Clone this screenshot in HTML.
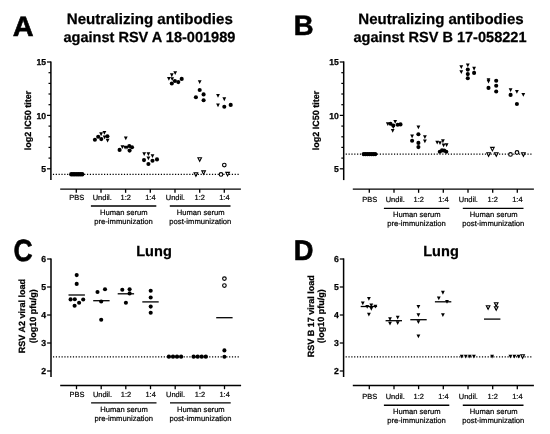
<!DOCTYPE html>
<html><head><meta charset="utf-8"><title>Figure</title>
<style>
html,body{margin:0;padding:0;background:#fff;}
svg{display:block;}
svg text{text-rendering:geometricPrecision;font-family:"Liberation Sans",sans-serif;fill:#000;}
</style></head>
<body>
<svg width="550" height="434" viewBox="0 0 550 434">
<rect width="550" height="434" fill="#fff"/>
<text x="149.80" y="24.10" font-size="15.1" font-weight="bold" stroke="#000" stroke-width="0.25" text-anchor="middle" >Neutralizing antibodies</text>
<text x="149.40" y="41.90" font-size="14.55" font-weight="bold" stroke="#000" stroke-width="0.25" text-anchor="middle" >against RSV A 18-001989</text>
<line x1="50.9" y1="61.4" x2="50.9" y2="180.1" stroke="#000" stroke-width="1.5" />
<line x1="47.0" y1="62.0" x2="51.0" y2="62.0" stroke="#000" stroke-width="1.25" />
<line x1="48.5" y1="72.7" x2="51.0" y2="72.7" stroke="#000" stroke-width="1.2" />
<line x1="48.5" y1="83.4" x2="51.0" y2="83.4" stroke="#000" stroke-width="1.2" />
<line x1="48.5" y1="94.0" x2="51.0" y2="94.0" stroke="#000" stroke-width="1.2" />
<line x1="48.5" y1="104.7" x2="51.0" y2="104.7" stroke="#000" stroke-width="1.2" />
<line x1="47.0" y1="115.4" x2="51.0" y2="115.4" stroke="#000" stroke-width="1.25" />
<line x1="48.5" y1="126.1" x2="51.0" y2="126.1" stroke="#000" stroke-width="1.2" />
<line x1="48.5" y1="136.8" x2="51.0" y2="136.8" stroke="#000" stroke-width="1.2" />
<line x1="48.5" y1="147.4" x2="51.0" y2="147.4" stroke="#000" stroke-width="1.2" />
<line x1="48.5" y1="158.1" x2="51.0" y2="158.1" stroke="#000" stroke-width="1.2" />
<line x1="47.0" y1="168.8" x2="51.0" y2="168.8" stroke="#000" stroke-width="1.25" />
<text x="46.00" y="65.40" font-size="8.65" font-weight="bold" stroke="#000" stroke-width="0.25" text-anchor="end" >15</text>
<text x="46.00" y="118.80" font-size="8.65" font-weight="bold" stroke="#000" stroke-width="0.25" text-anchor="end" >10</text>
<text x="46.00" y="172.20" font-size="8.65" font-weight="bold" stroke="#000" stroke-width="0.25" text-anchor="end" >5</text>
<text transform="translate(30.6 120.6) rotate(-90)" font-size="9" font-weight="bold" stroke="#000" stroke-width="0.25" text-anchor="middle">log2 IC50 titer</text>
<line x1="60.2" y1="189.1" x2="240.9" y2="189.1" stroke="#000" stroke-width="1.4" />
<line x1="76.3" y1="189.0" x2="76.3" y2="192.8" stroke="#000" stroke-width="1.3" />
<line x1="101.0" y1="189.0" x2="101.0" y2="192.8" stroke="#000" stroke-width="1.3" />
<line x1="125.6" y1="189.0" x2="125.6" y2="192.8" stroke="#000" stroke-width="1.3" />
<line x1="150.3" y1="189.0" x2="150.3" y2="192.8" stroke="#000" stroke-width="1.3" />
<line x1="175.0" y1="189.0" x2="175.0" y2="192.8" stroke="#000" stroke-width="1.3" />
<line x1="199.7" y1="189.0" x2="199.7" y2="192.8" stroke="#000" stroke-width="1.3" />
<line x1="224.3" y1="189.0" x2="224.3" y2="192.8" stroke="#000" stroke-width="1.3" />
<text x="76.80" y="199.80" font-size="7.45" stroke="#000" stroke-width="0.2" text-anchor="middle" >PBS</text>
<text x="102.27" y="199.80" font-size="7.45" stroke="#000" stroke-width="0.2" text-anchor="middle" >Undil.</text>
<text x="125.74" y="199.80" font-size="7.45" stroke="#000" stroke-width="0.2" text-anchor="middle" >1:2</text>
<text x="150.41" y="199.80" font-size="7.45" stroke="#000" stroke-width="0.2" text-anchor="middle" >1:4</text>
<text x="175.38" y="199.80" font-size="7.45" stroke="#000" stroke-width="0.2" text-anchor="middle" >Undil.</text>
<text x="199.75" y="199.80" font-size="7.45" stroke="#000" stroke-width="0.2" text-anchor="middle" >1:2</text>
<text x="224.42" y="199.80" font-size="7.45" stroke="#000" stroke-width="0.2" text-anchor="middle" >1:4</text>
<line x1="90.9" y1="206.0" x2="156.3" y2="206.0" stroke="#000" stroke-width="1.4" />
<line x1="169.8" y1="206.0" x2="230.5" y2="206.0" stroke="#000" stroke-width="1.4" />
<text x="123.84" y="215.00" font-size="7.6" stroke="#000" stroke-width="0.2" text-anchor="middle" >Human serum</text>
<text x="123.54" y="224.00" font-size="7.65" stroke="#000" stroke-width="0.2" text-anchor="middle" >pre-immunization</text>
<text x="200.65" y="215.00" font-size="7.6" stroke="#000" stroke-width="0.2" text-anchor="middle" >Human serum</text>
<text x="200.35" y="224.00" font-size="7.65" stroke="#000" stroke-width="0.2" text-anchor="middle" >post-immunization</text>
<line x1="52.9" y1="174.3" x2="240.1" y2="174.3" stroke="#000" stroke-width="1.2" stroke-dasharray="1.2 1.64"/>
<circle cx="71.3" cy="174.3" r="2.2"/>
<circle cx="73.1" cy="174.3" r="2.2"/>
<circle cx="74.9" cy="174.3" r="2.2"/>
<circle cx="76.8" cy="174.3" r="2.2"/>
<circle cx="78.6" cy="174.3" r="2.2"/>
<circle cx="80.4" cy="174.3" r="2.2"/>
<circle cx="82.2" cy="174.3" r="2.2"/>
<circle cx="94.9" cy="139.8" r="2.05"/>
<circle cx="98.2" cy="136.7" r="2.05"/>
<circle cx="101.3" cy="139.1" r="2.05"/>
<circle cx="107.4" cy="136.3" r="2.05"/>
<path d="M99.20 132.35h3.8l-1.9 3.8z"/>
<path d="M102.50 130.95h3.8l-1.9 3.8z"/>
<path d="M102.70 135.55h3.8l-1.9 3.8z"/>
<path d="M105.70 138.75h3.8l-1.9 3.8z"/>
<circle cx="119.6" cy="149.9" r="2.05"/>
<circle cx="129.6" cy="150.6" r="2.05"/>
<circle cx="132.0" cy="147.3" r="2.05"/>
<circle cx="129.3" cy="146.0" r="2.05"/>
<path d="M123.90 136.45h3.8l-1.9 3.8z"/>
<path d="M120.50 145.25h3.8l-1.9 3.8z"/>
<path d="M123.20 145.65h3.8l-1.9 3.8z"/>
<path d="M125.10 145.95h3.8l-1.9 3.8z"/>
<circle cx="144.0" cy="160.1" r="2.05"/>
<circle cx="148.4" cy="164.0" r="2.05"/>
<circle cx="152.5" cy="160.8" r="2.05"/>
<circle cx="157.0" cy="159.4" r="2.05"/>
<path d="M142.30 152.25h3.8l-1.9 3.8z"/>
<path d="M146.50 152.25h3.8l-1.9 3.8z"/>
<path d="M150.60 154.25h3.8l-1.9 3.8z"/>
<path d="M146.50 156.55h3.8l-1.9 3.8z"/>
<circle cx="171.8" cy="83.5" r="2.05"/>
<circle cx="174.9" cy="81.0" r="2.05"/>
<circle cx="178.3" cy="82.1" r="2.05"/>
<circle cx="181.7" cy="78.9" r="2.05"/>
<path d="M173.30 71.25h3.8l-1.9 3.8z"/>
<path d="M169.90 73.35h3.8l-1.9 3.8z"/>
<path d="M167.00 77.05h3.8l-1.9 3.8z"/>
<path d="M170.30 77.15h3.8l-1.9 3.8z"/>
<circle cx="199.7" cy="90.0" r="2.05"/>
<circle cx="203.6" cy="94.4" r="2.05"/>
<circle cx="195.9" cy="97.2" r="2.05"/>
<circle cx="203.6" cy="100.3" r="2.05"/>
<path d="M197.80 80.15h3.8l-1.9 3.8z"/>
<circle cx="224.3" cy="106.8" r="2.05"/>
<circle cx="230.7" cy="104.9" r="2.05"/>
<path d="M216.10 94.05h3.8l-1.9 3.8z"/>
<path d="M222.40 97.35h3.8l-1.9 3.8z"/>
<path d="M216.10 103.45h3.8l-1.9 3.8z"/>
<path d="M197.9 157.7h3.6l-1.8 3.5z" fill="#fff" stroke="#000" stroke-width="1.1"/>
<path d="M194.1 172.7h3.6l-1.8 3.5z" fill="#fff" stroke="#000" stroke-width="1.1"/>
<path d="M201.8 170.9h3.6l-1.8 3.5z" fill="#fff" stroke="#000" stroke-width="1.1"/>
<circle cx="224.3" cy="165.0" r="1.8" fill="#fff" stroke="#000" stroke-width="1.15"/>
<circle cx="221.0" cy="174.4" r="1.8" fill="#fff" stroke="#000" stroke-width="1.15"/>
<path d="M225.8 172.4h3.6l-1.8 3.5z" fill="#fff" stroke="#000" stroke-width="1.1"/>
<text x="441.00" y="23.70" font-size="15.04" font-weight="bold" stroke="#000" stroke-width="0.25" text-anchor="middle" >Neutralizing antibodies</text>
<text x="440.00" y="41.90" font-size="14.55" font-weight="bold" stroke="#000" stroke-width="0.25" text-anchor="middle" >against RSV B 17-058221</text>
<line x1="343.7" y1="61.4" x2="343.7" y2="180.1" stroke="#000" stroke-width="1.5" />
<line x1="339.8" y1="62.0" x2="343.8" y2="62.0" stroke="#000" stroke-width="1.25" />
<line x1="341.3" y1="72.7" x2="343.8" y2="72.7" stroke="#000" stroke-width="1.2" />
<line x1="341.3" y1="83.4" x2="343.8" y2="83.4" stroke="#000" stroke-width="1.2" />
<line x1="341.3" y1="94.0" x2="343.8" y2="94.0" stroke="#000" stroke-width="1.2" />
<line x1="341.3" y1="104.7" x2="343.8" y2="104.7" stroke="#000" stroke-width="1.2" />
<line x1="339.8" y1="115.4" x2="343.8" y2="115.4" stroke="#000" stroke-width="1.25" />
<line x1="341.3" y1="126.1" x2="343.8" y2="126.1" stroke="#000" stroke-width="1.2" />
<line x1="341.3" y1="136.8" x2="343.8" y2="136.8" stroke="#000" stroke-width="1.2" />
<line x1="341.3" y1="147.4" x2="343.8" y2="147.4" stroke="#000" stroke-width="1.2" />
<line x1="341.3" y1="158.1" x2="343.8" y2="158.1" stroke="#000" stroke-width="1.2" />
<line x1="339.8" y1="168.8" x2="343.8" y2="168.8" stroke="#000" stroke-width="1.25" />
<text x="338.80" y="65.40" font-size="8.65" font-weight="bold" stroke="#000" stroke-width="0.25" text-anchor="end" >15</text>
<text x="338.80" y="118.80" font-size="8.65" font-weight="bold" stroke="#000" stroke-width="0.25" text-anchor="end" >10</text>
<text x="338.80" y="172.20" font-size="8.65" font-weight="bold" stroke="#000" stroke-width="0.25" text-anchor="end" >5</text>
<text transform="translate(318.7 120.6) rotate(-90)" font-size="9" font-weight="bold" stroke="#000" stroke-width="0.25" text-anchor="middle">log2 IC50 titer</text>
<line x1="352.8" y1="189.1" x2="533.9" y2="189.1" stroke="#000" stroke-width="1.4" />
<line x1="369.3" y1="189.0" x2="369.3" y2="192.8" stroke="#000" stroke-width="1.3" />
<line x1="394.0" y1="189.0" x2="394.0" y2="192.8" stroke="#000" stroke-width="1.3" />
<line x1="418.6" y1="189.0" x2="418.6" y2="192.8" stroke="#000" stroke-width="1.3" />
<line x1="443.3" y1="189.0" x2="443.3" y2="192.8" stroke="#000" stroke-width="1.3" />
<line x1="468.0" y1="189.0" x2="468.0" y2="192.8" stroke="#000" stroke-width="1.3" />
<line x1="492.7" y1="189.0" x2="492.7" y2="192.8" stroke="#000" stroke-width="1.3" />
<line x1="517.3" y1="189.0" x2="517.3" y2="192.8" stroke="#000" stroke-width="1.3" />
<text x="369.80" y="202.20" font-size="7.45" stroke="#000" stroke-width="0.2" text-anchor="middle" >PBS</text>
<text x="395.27" y="202.20" font-size="7.45" stroke="#000" stroke-width="0.2" text-anchor="middle" >Undil.</text>
<text x="418.74" y="202.20" font-size="7.45" stroke="#000" stroke-width="0.2" text-anchor="middle" >1:2</text>
<text x="443.41" y="202.20" font-size="7.45" stroke="#000" stroke-width="0.2" text-anchor="middle" >1:4</text>
<text x="468.38" y="202.20" font-size="7.45" stroke="#000" stroke-width="0.2" text-anchor="middle" >Undil.</text>
<text x="492.75" y="202.20" font-size="7.45" stroke="#000" stroke-width="0.2" text-anchor="middle" >1:2</text>
<text x="517.42" y="202.20" font-size="7.45" stroke="#000" stroke-width="0.2" text-anchor="middle" >1:4</text>
<line x1="383.9" y1="208.4" x2="449.3" y2="208.4" stroke="#000" stroke-width="1.4" />
<line x1="462.8" y1="208.4" x2="523.5" y2="208.4" stroke="#000" stroke-width="1.4" />
<text x="416.84" y="217.40" font-size="7.6" stroke="#000" stroke-width="0.2" text-anchor="middle" >Human serum</text>
<text x="416.54" y="226.40" font-size="7.65" stroke="#000" stroke-width="0.2" text-anchor="middle" >pre-immunization</text>
<text x="493.65" y="217.40" font-size="7.6" stroke="#000" stroke-width="0.2" text-anchor="middle" >Human serum</text>
<text x="493.35" y="226.40" font-size="7.65" stroke="#000" stroke-width="0.2" text-anchor="middle" >post-immunization</text>
<line x1="345.7" y1="154.1" x2="533.1" y2="154.1" stroke="#000" stroke-width="1.2" stroke-dasharray="1.2 1.64"/>
<circle cx="363.8" cy="154.1" r="2.2"/>
<circle cx="365.7" cy="154.1" r="2.2"/>
<circle cx="367.6" cy="154.1" r="2.2"/>
<circle cx="369.5" cy="154.1" r="2.2"/>
<circle cx="371.4" cy="154.1" r="2.2"/>
<circle cx="373.3" cy="154.1" r="2.2"/>
<circle cx="375.2" cy="154.1" r="2.2"/>
<circle cx="390.5" cy="123.8" r="2.05"/>
<circle cx="393.3" cy="125.5" r="2.05"/>
<circle cx="397.7" cy="124.7" r="2.05"/>
<circle cx="400.5" cy="124.4" r="2.05"/>
<path d="M393.30 119.95h3.8l-1.9 3.8z"/>
<path d="M385.90 122.15h3.8l-1.9 3.8z"/>
<path d="M390.80 129.05h3.8l-1.9 3.8z"/>
<path d="M391.40 125.15h3.8l-1.9 3.8z"/>
<circle cx="418.4" cy="134.3" r="2.05"/>
<circle cx="412.1" cy="140.7" r="2.05"/>
<circle cx="418.4" cy="142.9" r="2.05"/>
<circle cx="418.4" cy="147.1" r="2.05"/>
<path d="M416.50 125.45h3.8l-1.9 3.8z"/>
<path d="M410.20 134.55h3.8l-1.9 3.8z"/>
<path d="M423.00 135.15h3.8l-1.9 3.8z"/>
<path d="M423.00 139.55h3.8l-1.9 3.8z"/>
<circle cx="439.8" cy="151.7" r="2.05"/>
<circle cx="442.0" cy="150.4" r="2.05"/>
<circle cx="444.2" cy="150.6" r="2.05"/>
<circle cx="446.3" cy="151.7" r="2.05"/>
<path d="M435.30 140.65h3.8l-1.9 3.8z"/>
<path d="M438.10 141.25h3.8l-1.9 3.8z"/>
<path d="M441.00 139.35h3.8l-1.9 3.8z"/>
<path d="M441.70 143.45h3.8l-1.9 3.8z"/>
<path d="M444.70 143.15h3.8l-1.9 3.8z"/>
<circle cx="467.8" cy="69.6" r="2.05"/>
<circle cx="467.8" cy="74.1" r="2.05"/>
<circle cx="467.8" cy="78.3" r="2.05"/>
<circle cx="474.1" cy="72.9" r="2.05"/>
<path d="M459.40 65.15h3.8l-1.9 3.8z"/>
<path d="M459.40 70.15h3.8l-1.9 3.8z"/>
<path d="M465.90 63.55h3.8l-1.9 3.8z"/>
<path d="M472.20 66.85h3.8l-1.9 3.8z"/>
<circle cx="496.2" cy="80.7" r="2.05"/>
<circle cx="496.2" cy="85.7" r="2.05"/>
<circle cx="488.5" cy="87.9" r="2.05"/>
<circle cx="496.2" cy="91.5" r="2.05"/>
<path d="M486.60 78.15h3.8l-1.9 3.8z"/>
<path d="M486.60 79.75h3.8l-1.9 3.8z"/>
<circle cx="510.6" cy="94.9" r="2.05"/>
<circle cx="516.9" cy="104.0" r="2.05"/>
<path d="M508.70 88.15h3.8l-1.9 3.8z"/>
<path d="M515.00 90.05h3.8l-1.9 3.8z"/>
<path d="M521.40 93.05h3.8l-1.9 3.8z"/>
<path d="M486.8 152.7h3.6l-1.8 3.5z" fill="#fff" stroke="#000" stroke-width="1.1"/>
<path d="M490.6 147.4h3.6l-1.8 3.5z" fill="#fff" stroke="#000" stroke-width="1.1"/>
<path d="M494.5 152.7h3.6l-1.8 3.5z" fill="#fff" stroke="#000" stroke-width="1.1"/>
<circle cx="510.5" cy="154.4" r="1.8" fill="#fff" stroke="#000" stroke-width="1.15"/>
<circle cx="517.0" cy="152.4" r="1.8" fill="#fff" stroke="#000" stroke-width="1.15"/>
<path d="M521.6 152.7h3.6l-1.8 3.5z" fill="#fff" stroke="#000" stroke-width="1.1"/>
<text x="154.00" y="255.50" font-size="14.55" font-weight="bold" stroke="#000" stroke-width="0.25" text-anchor="middle" >Lung</text>
<line x1="51.0" y1="258.4" x2="51.0" y2="377.0" stroke="#000" stroke-width="1.5" />
<line x1="47.1" y1="259.0" x2="51.1" y2="259.0" stroke="#000" stroke-width="1.25" />
<text x="46.10" y="262.35" font-size="8.7" font-weight="bold" stroke="#000" stroke-width="0.25" text-anchor="end" >6</text>
<line x1="47.1" y1="287.0" x2="51.1" y2="287.0" stroke="#000" stroke-width="1.25" />
<text x="46.10" y="290.35" font-size="8.7" font-weight="bold" stroke="#000" stroke-width="0.25" text-anchor="end" >5</text>
<line x1="47.1" y1="315.0" x2="51.1" y2="315.0" stroke="#000" stroke-width="1.25" />
<text x="46.10" y="318.35" font-size="8.7" font-weight="bold" stroke="#000" stroke-width="0.25" text-anchor="end" >4</text>
<line x1="47.1" y1="343.0" x2="51.1" y2="343.0" stroke="#000" stroke-width="1.25" />
<text x="46.10" y="346.35" font-size="8.7" font-weight="bold" stroke="#000" stroke-width="0.25" text-anchor="end" >3</text>
<line x1="47.1" y1="371.0" x2="51.1" y2="371.0" stroke="#000" stroke-width="1.25" />
<text x="46.10" y="374.35" font-size="8.7" font-weight="bold" stroke="#000" stroke-width="0.25" text-anchor="end" >2</text>
<text transform="translate(25.2 316.2) rotate(-90)" font-size="9" font-weight="bold" stroke="#000" stroke-width="0.25" text-anchor="middle">RSV A2 viral load</text>
<text transform="translate(35.5 316.2) rotate(-90)" font-size="9" font-weight="bold" stroke="#000" stroke-width="0.25" text-anchor="middle">(log10 pfu/g)</text>
<line x1="60.2" y1="385.5" x2="241.1" y2="385.5" stroke="#000" stroke-width="1.4" />
<line x1="76.5" y1="385.4" x2="76.5" y2="389.2" stroke="#000" stroke-width="1.3" />
<line x1="101.2" y1="385.4" x2="101.2" y2="389.2" stroke="#000" stroke-width="1.3" />
<line x1="125.8" y1="385.4" x2="125.8" y2="389.2" stroke="#000" stroke-width="1.3" />
<line x1="150.5" y1="385.4" x2="150.5" y2="389.2" stroke="#000" stroke-width="1.3" />
<line x1="175.2" y1="385.4" x2="175.2" y2="389.2" stroke="#000" stroke-width="1.3" />
<line x1="199.9" y1="385.4" x2="199.9" y2="389.2" stroke="#000" stroke-width="1.3" />
<line x1="224.5" y1="385.4" x2="224.5" y2="389.2" stroke="#000" stroke-width="1.3" />
<text x="77.00" y="396.70" font-size="7.45" stroke="#000" stroke-width="0.2" text-anchor="middle" >PBS</text>
<text x="102.47" y="396.70" font-size="7.45" stroke="#000" stroke-width="0.2" text-anchor="middle" >Undil.</text>
<text x="125.94" y="396.70" font-size="7.45" stroke="#000" stroke-width="0.2" text-anchor="middle" >1:2</text>
<text x="150.61" y="396.70" font-size="7.45" stroke="#000" stroke-width="0.2" text-anchor="middle" >1:4</text>
<text x="175.58" y="396.70" font-size="7.45" stroke="#000" stroke-width="0.2" text-anchor="middle" >Undil.</text>
<text x="199.95" y="396.70" font-size="7.45" stroke="#000" stroke-width="0.2" text-anchor="middle" >1:2</text>
<text x="224.62" y="396.70" font-size="7.45" stroke="#000" stroke-width="0.2" text-anchor="middle" >1:4</text>
<line x1="91.1" y1="402.9" x2="156.5" y2="402.9" stroke="#000" stroke-width="1.4" />
<line x1="170.0" y1="402.9" x2="230.7" y2="402.9" stroke="#000" stroke-width="1.4" />
<text x="124.04" y="411.90" font-size="7.6" stroke="#000" stroke-width="0.2" text-anchor="middle" >Human serum</text>
<text x="123.74" y="420.90" font-size="7.65" stroke="#000" stroke-width="0.2" text-anchor="middle" >pre-immunization</text>
<text x="200.85" y="411.90" font-size="7.6" stroke="#000" stroke-width="0.2" text-anchor="middle" >Human serum</text>
<text x="200.55" y="420.90" font-size="7.65" stroke="#000" stroke-width="0.2" text-anchor="middle" >post-immunization</text>
<line x1="53.0" y1="356.8" x2="240.1" y2="356.8" stroke="#000" stroke-width="1.2" stroke-dasharray="1.2 1.64"/>
<line x1="68.5" y1="295.0" x2="84.9" y2="295.0" stroke="#000" stroke-width="1.3" />
<line x1="93.2" y1="300.7" x2="109.6" y2="300.7" stroke="#000" stroke-width="1.3" />
<line x1="117.7" y1="293.8" x2="134.1" y2="293.8" stroke="#000" stroke-width="1.3" />
<line x1="142.3" y1="301.9" x2="158.7" y2="301.9" stroke="#000" stroke-width="1.3" />
<line x1="216.2" y1="317.7" x2="232.6" y2="317.7" stroke="#000" stroke-width="1.3" />
<circle cx="76.7" cy="275.1" r="2.05"/>
<circle cx="76.7" cy="283.9" r="2.05"/>
<circle cx="70.6" cy="299.4" r="2.05"/>
<circle cx="74.8" cy="299.2" r="2.05"/>
<circle cx="83.2" cy="299.5" r="2.05"/>
<circle cx="79.1" cy="302.7" r="2.05"/>
<circle cx="74.6" cy="305.8" r="2.05"/>
<circle cx="97.5" cy="292.0" r="2.05"/>
<circle cx="105.0" cy="289.3" r="2.05"/>
<circle cx="101.2" cy="301.5" r="2.05"/>
<circle cx="101.2" cy="319.8" r="2.05"/>
<circle cx="122.3" cy="289.7" r="2.05"/>
<circle cx="129.6" cy="289.3" r="2.05"/>
<circle cx="129.6" cy="293.4" r="2.05"/>
<circle cx="125.9" cy="302.7" r="2.05"/>
<circle cx="150.7" cy="290.8" r="2.05"/>
<circle cx="150.7" cy="297.5" r="2.05"/>
<circle cx="150.7" cy="306.6" r="2.05"/>
<circle cx="150.7" cy="312.7" r="2.05"/>
<circle cx="168.9" cy="356.7" r="2.15"/>
<circle cx="173.0" cy="356.7" r="2.15"/>
<circle cx="177.0" cy="356.7" r="2.15"/>
<circle cx="181.1" cy="356.7" r="2.15"/>
<circle cx="193.6" cy="356.7" r="2.15"/>
<circle cx="197.7" cy="356.7" r="2.15"/>
<circle cx="201.7" cy="356.7" r="2.15"/>
<circle cx="205.8" cy="356.7" r="2.15"/>
<circle cx="224.4" cy="350.4" r="2.05"/>
<circle cx="224.4" cy="356.7" r="2.05"/>
<circle cx="224.4" cy="278.6" r="1.8" fill="#fff" stroke="#000" stroke-width="1.15"/>
<circle cx="224.4" cy="285.5" r="1.8" fill="#fff" stroke="#000" stroke-width="1.15"/>
<text x="441.00" y="255.50" font-size="14.55" font-weight="bold" stroke="#000" stroke-width="0.25" text-anchor="middle" >Lung</text>
<line x1="343.6" y1="258.4" x2="343.6" y2="377.0" stroke="#000" stroke-width="1.5" />
<line x1="339.8" y1="259.0" x2="343.8" y2="259.0" stroke="#000" stroke-width="1.25" />
<text x="338.75" y="262.35" font-size="8.7" font-weight="bold" stroke="#000" stroke-width="0.25" text-anchor="end" >6</text>
<line x1="339.8" y1="287.0" x2="343.8" y2="287.0" stroke="#000" stroke-width="1.25" />
<text x="338.75" y="290.35" font-size="8.7" font-weight="bold" stroke="#000" stroke-width="0.25" text-anchor="end" >5</text>
<line x1="339.8" y1="315.0" x2="343.8" y2="315.0" stroke="#000" stroke-width="1.25" />
<text x="338.75" y="318.35" font-size="8.7" font-weight="bold" stroke="#000" stroke-width="0.25" text-anchor="end" >4</text>
<line x1="339.8" y1="343.0" x2="343.8" y2="343.0" stroke="#000" stroke-width="1.25" />
<text x="338.75" y="346.35" font-size="8.7" font-weight="bold" stroke="#000" stroke-width="0.25" text-anchor="end" >3</text>
<line x1="339.8" y1="371.0" x2="343.8" y2="371.0" stroke="#000" stroke-width="1.25" />
<text x="338.75" y="374.35" font-size="8.7" font-weight="bold" stroke="#000" stroke-width="0.25" text-anchor="end" >2</text>
<text transform="translate(313.8 316.2) rotate(-90)" font-size="9" font-weight="bold" stroke="#000" stroke-width="0.25" text-anchor="middle">RSV B 17 viral load</text>
<text transform="translate(324.2 316.2) rotate(-90)" font-size="9" font-weight="bold" stroke="#000" stroke-width="0.25" text-anchor="middle">(log10 pfu/g)</text>
<line x1="352.8" y1="385.5" x2="533.9" y2="385.5" stroke="#000" stroke-width="1.4" />
<line x1="369.3" y1="385.4" x2="369.3" y2="389.2" stroke="#000" stroke-width="1.3" />
<line x1="394.0" y1="385.4" x2="394.0" y2="389.2" stroke="#000" stroke-width="1.3" />
<line x1="418.6" y1="385.4" x2="418.6" y2="389.2" stroke="#000" stroke-width="1.3" />
<line x1="443.3" y1="385.4" x2="443.3" y2="389.2" stroke="#000" stroke-width="1.3" />
<line x1="468.0" y1="385.4" x2="468.0" y2="389.2" stroke="#000" stroke-width="1.3" />
<line x1="492.7" y1="385.4" x2="492.7" y2="389.2" stroke="#000" stroke-width="1.3" />
<line x1="517.3" y1="385.4" x2="517.3" y2="389.2" stroke="#000" stroke-width="1.3" />
<text x="369.80" y="399.10" font-size="7.45" stroke="#000" stroke-width="0.2" text-anchor="middle" >PBS</text>
<text x="395.27" y="399.10" font-size="7.45" stroke="#000" stroke-width="0.2" text-anchor="middle" >Undil.</text>
<text x="418.74" y="399.10" font-size="7.45" stroke="#000" stroke-width="0.2" text-anchor="middle" >1:2</text>
<text x="443.41" y="399.10" font-size="7.45" stroke="#000" stroke-width="0.2" text-anchor="middle" >1:4</text>
<text x="468.38" y="399.10" font-size="7.45" stroke="#000" stroke-width="0.2" text-anchor="middle" >Undil.</text>
<text x="492.75" y="399.10" font-size="7.45" stroke="#000" stroke-width="0.2" text-anchor="middle" >1:2</text>
<text x="517.42" y="399.10" font-size="7.45" stroke="#000" stroke-width="0.2" text-anchor="middle" >1:4</text>
<line x1="383.9" y1="405.3" x2="449.3" y2="405.3" stroke="#000" stroke-width="1.4" />
<line x1="462.8" y1="405.3" x2="523.5" y2="405.3" stroke="#000" stroke-width="1.4" />
<text x="416.84" y="414.30" font-size="7.6" stroke="#000" stroke-width="0.2" text-anchor="middle" >Human serum</text>
<text x="416.54" y="423.30" font-size="7.65" stroke="#000" stroke-width="0.2" text-anchor="middle" >pre-immunization</text>
<text x="493.65" y="414.30" font-size="7.6" stroke="#000" stroke-width="0.2" text-anchor="middle" >Human serum</text>
<text x="493.35" y="423.30" font-size="7.65" stroke="#000" stroke-width="0.2" text-anchor="middle" >post-immunization</text>
<line x1="345.6" y1="356.8" x2="532.9" y2="356.8" stroke="#000" stroke-width="1.2" stroke-dasharray="1.2 1.64"/>
<line x1="360.7" y1="306.5" x2="377.1" y2="306.5" stroke="#000" stroke-width="1.3" />
<line x1="385.6" y1="320.7" x2="402.0" y2="320.7" stroke="#000" stroke-width="1.3" />
<line x1="410.3" y1="319.7" x2="426.7" y2="319.7" stroke="#000" stroke-width="1.3" />
<line x1="434.9" y1="301.8" x2="451.3" y2="301.8" stroke="#000" stroke-width="1.3" />
<line x1="484.0" y1="319.1" x2="500.4" y2="319.1" stroke="#000" stroke-width="1.3" />
<path d="M367.00 296.95h3.8l-1.9 3.8z"/>
<path d="M360.90 301.45h3.8l-1.9 3.8z"/>
<path d="M365.30 305.05h3.8l-1.9 3.8z"/>
<path d="M369.40 303.45h3.8l-1.9 3.8z"/>
<path d="M369.40 307.05h3.8l-1.9 3.8z"/>
<path d="M373.50 304.65h3.8l-1.9 3.8z"/>
<path d="M367.00 312.75h3.8l-1.9 3.8z"/>
<path d="M388.10 317.25h3.8l-1.9 3.8z"/>
<path d="M395.80 315.65h3.8l-1.9 3.8z"/>
<path d="M388.10 321.65h3.8l-1.9 3.8z"/>
<path d="M395.80 321.25h3.8l-1.9 3.8z"/>
<path d="M416.50 305.05h3.8l-1.9 3.8z"/>
<path d="M416.50 313.15h3.8l-1.9 3.8z"/>
<path d="M416.50 320.25h3.8l-1.9 3.8z"/>
<path d="M416.50 334.45h3.8l-1.9 3.8z"/>
<path d="M441.00 290.85h3.8l-1.9 3.8z"/>
<path d="M436.90 296.55h3.8l-1.9 3.8z"/>
<path d="M445.10 299.95h3.8l-1.9 3.8z"/>
<path d="M441.00 313.15h3.8l-1.9 3.8z"/>
<path d="M459.80 354.80h3.8l-1.9 3.8z"/>
<path d="M463.90 354.80h3.8l-1.9 3.8z"/>
<path d="M467.90 354.80h3.8l-1.9 3.8z"/>
<path d="M472.00 354.80h3.8l-1.9 3.8z"/>
<path d="M490.20 354.80h3.8l-1.9 3.8z"/>
<path d="M508.50 354.80h3.8l-1.9 3.8z"/>
<path d="M512.50 354.80h3.8l-1.9 3.8z"/>
<path d="M516.60 354.80h3.8l-1.9 3.8z"/>
<path d="M520.8 354.8h3.6l-1.8 3.5z" fill="#fff" stroke="#000" stroke-width="1.1"/>
<path d="M486.3 305.8h3.6l-1.8 3.5z" fill="#fff" stroke="#000" stroke-width="1.1"/>
<path d="M494.4 302.8h3.6l-1.8 3.5z" fill="#fff" stroke="#000" stroke-width="1.1"/>
<path d="M494.4 306.8h3.6l-1.8 3.5z" fill="#fff" stroke="#000" stroke-width="1.1"/>
<text transform="translate(12.85 35.74) scale(1.0299 1)" font-size="28.00" font-weight="bold" stroke="#000" stroke-width="0.6">A</text>
<text transform="translate(293.63 34.64) scale(0.9796 1)" font-size="28.01" font-weight="bold" stroke="#000" stroke-width="0.6">B</text>
<text transform="translate(13.47 260.74) scale(0.8637 1)" font-size="30.63" font-weight="bold" stroke="#000" stroke-width="0.6">C</text>
<text transform="translate(293.64 259.89) scale(0.9646 1)" font-size="28.22" font-weight="bold" stroke="#000" stroke-width="0.6">D</text>
</svg>
</body></html>
